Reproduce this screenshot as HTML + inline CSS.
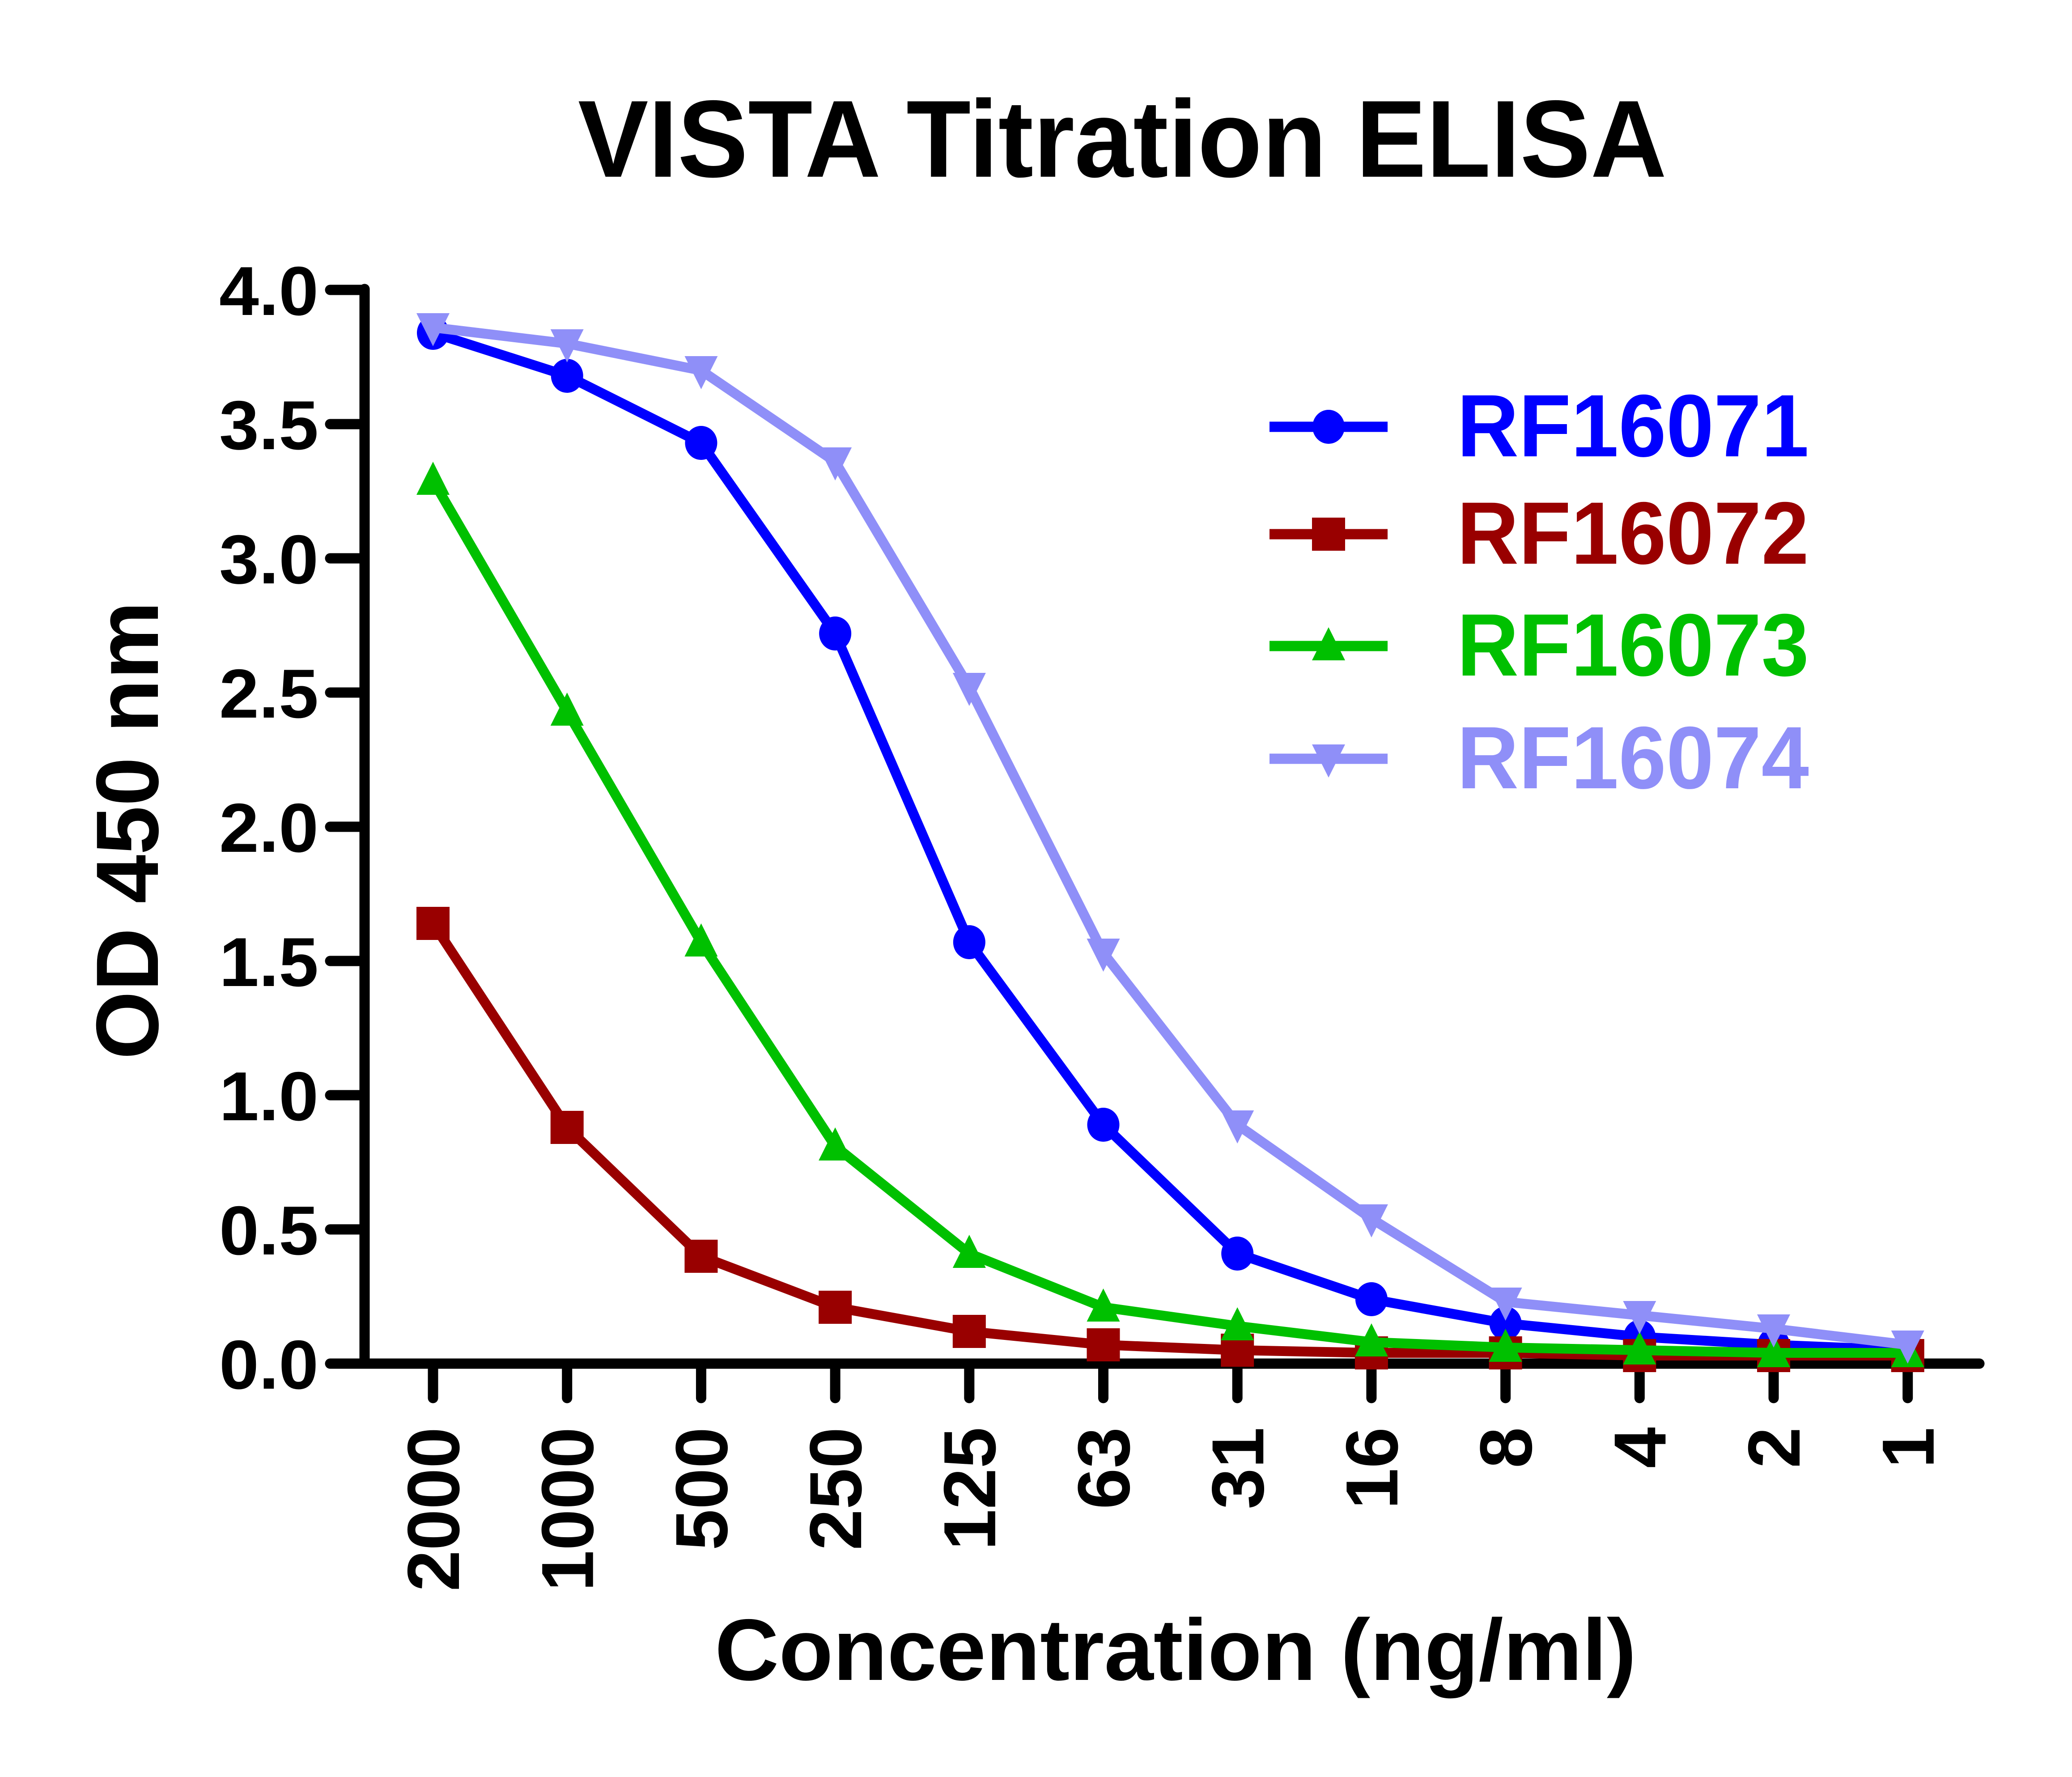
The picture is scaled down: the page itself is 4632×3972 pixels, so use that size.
<!DOCTYPE html>
<html><head><meta charset="utf-8"><style>html,body{margin:0;padding:0;background:#fff}svg{display:block}</style></head>
<body>
<svg id="s" xmlns="http://www.w3.org/2000/svg" width="4632" height="3972" viewBox="0 0 4632 3972" font-family="Liberation Sans, Arial, sans-serif" font-weight="bold">
<rect width="4632" height="3972" fill="#fff"/>
<text x="2509" y="395" font-size="245" text-anchor="middle" textLength="2434" lengthAdjust="spacingAndGlyphs">VISTA Titration ELISA</text>
<text x="2628" y="3755" font-size="195" text-anchor="middle" textLength="2060" lengthAdjust="spacingAndGlyphs">Concentration (ng/ml)</text>
<text transform="translate(353,1856) rotate(-90)" font-size="198" text-anchor="middle" textLength="1024" lengthAdjust="spacingAndGlyphs">OD 450 nm</text>
<g id="axes" stroke="#000" stroke-width="23" stroke-linecap="round"></g>
<g id="ylab" font-size="155" text-anchor="end"></g>
<g id="xlab" font-size="165" text-anchor="end"></g>
<g id="series"></g>
<g id="legend"></g>
</svg>
<script>
var NS="http://www.w3.org/2000/svg";
function el(p,t,a,txt){var e=document.createElementNS(NS,t);for(var k in a)e.setAttribute(k,a[k]);if(txt!=null)e.textContent=txt;p.appendChild(e);return e;}
var X0=815,Y0=3048,U=600,XL=4425;
function xi(i){return 968+299.7*i;}
function yv(v){return Y0-U*v;}
var ax=document.getElementById('axes');
el(ax,'line',{x1:X0,y1:646,x2:X0,y2:Y0});
el(ax,'line',{x1:X0,y1:Y0,x2:XL,y2:Y0});
var yl=document.getElementById('ylab');
for(var k=0;k<=8;k++){var v=k*0.5,y=yv(v);el(ax,'line',{x1:738,y1:y,x2:X0,y2:y});
 el(yl,'text',{x:712,y:y+56,textLength:222,lengthAdjust:'spacingAndGlyphs'},v.toFixed(1));}
var xs=["2000","1000","500","250","125","63","31","16","8","4","2","1"];
var xl=document.getElementById('xlab');
for(var i=0;i<12;i++){var x=xi(i);el(ax,'line',{x1:x,y1:Y0,x2:x,y2:3125});
 el(xl,'text',{transform:'translate('+(x+58)+',3190) rotate(-90)'},xs[i]);}
var data=[
 ["#0000ff","c",[3.84,3.68,3.43,2.72,1.57,0.89,0.41,0.24,0.15,0.10,0.07,0.05],"RF16071"],
 ["#990000","s",[1.64,0.88,0.40,0.21,0.12,0.07,0.05,0.04,0.04,0.03,0.03,0.03],"RF16072"],
 ["#00c000","t",[3.29,2.43,1.57,0.81,0.41,0.21,0.14,0.08,0.06,0.05,0.04,0.04],"RF16073"],
 ["#8f8ff8","v",[3.86,3.80,3.70,3.36,2.52,1.53,0.89,0.54,0.23,0.18,0.13,0.07],"RF16074"]];
function mk(g,type,x,y,c){
 if(type=="c")el(g,'ellipse',{cx:x,cy:y,rx:36,ry:38,fill:c});
 else if(type=="s")el(g,'rect',{x:x-37,y:y-37,width:74,height:74,fill:c});
 else if(type=="t")el(g,'polygon',{points:(x)+','+(y-42)+' '+(x+37)+','+(y+32)+' '+(x-37)+','+(y+32),fill:c});
 else el(g,'polygon',{points:(x)+','+(y+42)+' '+(x+37)+','+(y-32)+' '+(x-37)+','+(y-32),fill:c});}
var sg=document.getElementById('series');
data.forEach(function(d){var g=el(sg,'g',{});var pts=d[2].map(function(v,i){return xi(i)+','+yv(v);}).join(' ');
 el(g,'polyline',{points:pts,fill:'none',stroke:d[0],'stroke-width':22,'stroke-linejoin':'round'});
 d[2].forEach(function(v,i){mk(g,d[1],xi(i),yv(v),d[0]);});});
var lg=document.getElementById('legend');var ly=[954,1194,1444,1696];
data.forEach(function(d,j){var y=ly[j];el(lg,'line',{x1:2838,y1:y,x2:3102,y2:y,stroke:d[0],'stroke-width':23});
 mk(lg,d[1],2970,y,d[0]);
 el(lg,'text',{x:3257,y:y+66,'font-size':198,fill:d[0],textLength:787,lengthAdjust:'spacingAndGlyphs'},d[3]);});
</script>
</body></html>
